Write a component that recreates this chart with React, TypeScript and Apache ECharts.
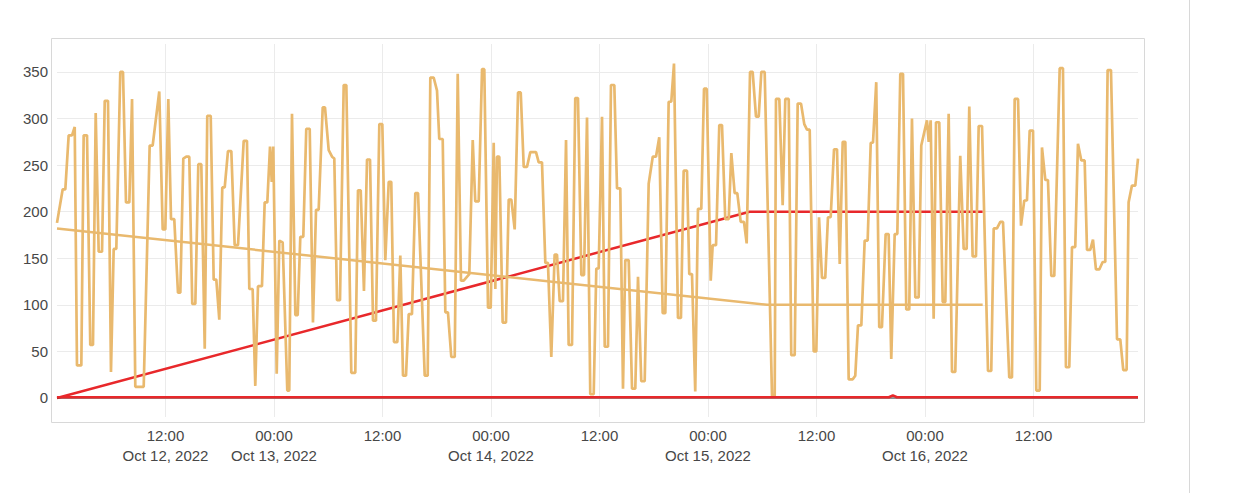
import React, { useEffect, useRef } from "react";
import * as echarts from "echarts";

// Hours since Oct 12, 2022 00:00 for the jagged series
const jagHours = [
  0, 0.63, 0.92, 1.29, 1.66, 1.96, 2.21, 2.69, 2.95, 3.32, 3.68, 3.98, 4.28, 4.61, 4.98, 5.28, 5.64, 5.97, 6.27, 6.56,
  7.0, 7.3, 7.63, 8.0, 8.3, 8.66, 9.59, 10.25, 10.58, 11.31, 11.69, 11.98, 12.31, 12.61, 12.97, 13.38, 13.64, 13.97, 14.3, 14.63,
  14.96, 15.3, 15.63, 15.96, 16.34, 16.62, 17.0, 17.33, 17.62, 17.95, 18.28, 18.55, 18.91, 19.28,
  19.65, 20.02, 20.65, 21.01, 21.27, 21.64, 21.93, 22.23, 22.67, 22.97, 23.26, 23.56, 23.75, 23.92, 24.3, 24.59, 24.96, 25.47, 25.69, 25.99,
  26.36, 26.62, 26.91, 27.24, 27.57, 27.95, 28.31, 28.65, 28.94, 29.39, 29.64, 30.05, 30.42, 30.67, 30.97, 31.3, 31.71, 32.0, 32.55, 32.99,
  33.29, 33.59, 33.95, 34.29, 34.62, 34.95, 35.28, 35.65, 35.98, 36.31, 36.69, 36.97, 37.27, 37.64, 37.97, 38.27, 38.6, 38.9, 39.26, 39.63,
  39.93, 40.67, 41.0, 41.29, 41.66, 42.03, 42.28, 42.66, 42.95, 43.24, 43.61, 43.99, 44.32, 44.68, 44.98, 45.6, 45.98, 46.26, 46.64, 47.01,
  47.26, 47.67, 47.97, 48.3, 48.48, 48.66, 48.92, 49.29, 49.66, 49.96, 50.25, 50.62, 50.99, 51.29, 51.62, 51.98, 52.35, 52.98, 53.28, 53.64,
  54.01, 54.3, 54.67, 55.04, 55.3, 55.6, 55.96, 56.3, 56.59, 56.96, 57.32, 57.62, 57.99, 58.29, 58.62, 58.98, 59.36, 59.65,
  59.91, 60.28, 60.58, 60.94, 61.27, 61.64, 61.94, 62.3, 62.6, 62.85, 63.23, 63.6, 63.96, 64.26, 64.62, 65.0, 65.44, 65.89, 66.25, 66.61,
  66.99, 67.28, 67.65, 67.94, 68.24, 68.68, 69.01, 69.31, 69.68, 69.93, 70.23, 70.59, 70.89, 71.26, 71.56, 71.86, 72.3, 72.52, 72.89, 73.25,
  73.55, 73.91, 74.29, 74.58, 74.95, 75.24, 75.62, 75.98, 76.28, 76.65, 76.94, 77.31, 77.61, 77.9, 78.27, 79.08, 79.38,
  79.52, 79.89, 80.26, 80.55, 80.93, 81.21, 81.59, 81.92, 82.29, 82.65, 82.95, 83.25, 83.69, 83.98, 84.28, 84.61, 84.97, 85.27, 85.57, 85.94,
  86.27, 86.57, 86.9, 87.19, 87.56, 88.01, 88.29, 88.59, 88.96, 89.33, 89.66, 90.0, 90.25, 90.61, 90.94, 91.24, 91.65, 91.98, 92.27, 92.65,
  92.94, 93.27, 93.57, 93.93, 94.26, 94.56, 94.93, 95.3, 95.59, 96.22, 96.41, 96.63, 96.96, 97.22, 97.58, 97.96, 98.25, 98.62, 98.99, 99.35,
  99.9, 100.28, 100.61, 100.9, 101.27, 101.64, 101.94, 102.31, 102.97, 103.33, 103.6, 103.96, 104.33, 104.63, 105.32, 105.62, 105.92, 106.29, 106.62, 106.98,
  107.28, 107.58, 107.95, 108.31, 108.69, 108.94, 109.31, 109.6, 109.97, 110.3, 110.9, 111.26, 111.59, 111.96, 112.26, 112.62, 112.92, 113.29, 113.66, 113.92,
  114.28, 114.58, 114.91, 115.28, 115.65, 115.94, 116.2, 116.57, 117.24, 117.6, 117.93, 118.3, 118.52, 118.89, 119.26, 119.56,
];

const jagValues = [
  188, 224, 224, 282, 282, 291, 35, 35, 282, 282, 57, 57, 306, 157, 157, 319, 319, 28, 160, 160,
  350, 350, 210, 210, 321, 12, 12, 271, 271, 329, 181, 181, 321, 192, 192, 113, 113, 257, 259, 259,
  101, 101, 251, 251, 53, 303, 303, 127, 127, 84, 226, 226, 265, 265,
  164, 164, 276, 276, 117, 117, 13, 120, 120, 210, 210, 270, 232, 270, 26, 169, 167, 8, 8, 305,
  89, 89, 173, 173, 289, 289, 81, 202, 202, 312, 312, 266, 259, 257, 105, 105, 336, 336, 27, 27,
  223, 223, 115, 256, 256, 83, 83, 294, 294, 148, 232, 232, 60, 60, 153, 24, 24, 90, 90, 220,
  220, 24, 24, 344, 344, 330, 278, 278, 92, 92, 44, 44, 348, 126, 126, 133, 277, 211, 211, 353,
  353, 97, 97, 274, 117, 259, 259, 81, 81, 213, 213, 181, 328, 328, 248, 248, 264, 264, 253, 253,
  145, 145, 44, 154, 154, 104, 104, 277, 57, 57, 322, 322, 132, 132, 301, 4, 4, 139,
  139, 302, 55, 55, 336, 336, 225, 225, 10, 148, 148, 10, 10, 130, 18, 18, 230, 259, 259, 280,
  91, 91, 318, 318, 359, 86, 86, 244, 244, 133, 133, 7, 203, 203, 332, 332, 126, 164, 164, 293,
  293, 192, 192, 263, 220, 220, 189, 189, 166, 350, 350, 302, 302, 350, 350, 2.5, 2.5,
  321, 321, 207, 321, 321, 46, 46, 316, 316, 294, 288, 288, 50, 50, 194, 129, 129, 194, 194, 267,
  267, 144, 275, 275, 20, 20, 24, 78, 78, 169, 169, 274, 274, 339, 76, 76, 176, 176, 42, 176,
  176, 348, 348, 95, 95, 300, 108, 108, 271, 298, 275, 298, 85, 296, 296, 103, 103, 305, 28, 28,
  260, 160, 160, 313, 152, 152, 292, 292, 29, 29, 182, 182, 189, 189, 22, 22, 321, 321, 185, 212,
  212, 287, 287, 8, 8, 269, 234, 234, 131, 131, 354, 354, 33, 33, 162, 162, 273, 255, 255, 159,
  159, 170, 138, 138, 146, 146, 352, 352, 63, 63, 30, 30, 210, 228, 228, 257,
];

// Straight orange line (declining then flat)
const trendHours = [0, 78.53, 102.38];
const trendValues = [182, 100, 100];

// Red rising line then flat
const redHours = [0, 76.6, 102.38];
const redValues = [0, 200, 200];

// Near-zero series
const zeroRedHours = [0, 92.0, 92.45, 92.9, 119.56];
const zeroRedValues = [0.8, 0.8, 2.8, 0.8, 0.8];
const zeroDarkHours = [0, 119.56];
const zeroDarkValues = [0, 0];

const xMaxHours = 119.56;
const xTickHours = [12, 24, 36, 48, 60, 72, 84, 96, 108];
const yTicks = [0, 50, 100, 150, 200, 250, 300, 350];
const yMin = -20.4;
const yMax = 380;

const pairs = (h: number[], v: number[]) => h.map((x, i) => [x, v[i]]);

export default function App() {
  const ref = useRef<HTMLDivElement>(null);
  useEffect(() => {
    if (!ref.current) return;
    const chart = echarts.init(ref.current, undefined, { renderer: "svg" });
    const labelFont = {
      color: "#474747",
      fontSize: 15,
      fontFamily: "'Liberation Sans', Arial, sans-serif",
    };
    chart.setOption({
      animation: false,
      backgroundColor: "#ffffff",
      grid: { left: 57, right: 97, top: 44, bottom: 76, containLabel: false },
      xAxis: {
        type: "value",
        min: 0,
        max: xMaxHours,
        axisLine: { show: false },
        axisTick: { show: false, customValues: xTickHours },
        splitLine: { show: true, lineStyle: { color: "#ebebeb", width: 1 } },
        axisLabel: {
          ...labelFont,
          customValues: xTickHours,
          margin: 8,
          lineHeight: 20,
          formatter: (v: number) => {
            const h = Math.round(v);
            const day = 12 + Math.floor(h / 24);
            if (h === 12) return `12:00\nOct ${day}, 2022`;
            if (h % 24 === 12) return "12:00";
            return `00:00\nOct ${day}, 2022`;
          },
        },
      },
      yAxis: {
        type: "value",
        min: yMin,
        max: yMax,
        axisLine: { show: false },
        axisTick: { show: false, customValues: yTicks },
        splitLine: { show: true, lineStyle: { color: "#ebebeb", width: 1 } },
        axisLabel: { ...labelFont, customValues: yTicks, margin: 9 },
      },
      graphic: [
        {
          type: "rect",
          shape: { x: 51.5, y: 38.5, width: 1093, height: 384 },
          style: { fill: "none", stroke: "#d8d8d8", lineWidth: 1 },
          silent: true,
          z: 0,
        },
        {
          type: "line",
          shape: { x1: 1189.5, y1: 0, x2: 1189.5, y2: 493 },
          style: { stroke: "#d8d8d8", lineWidth: 1 },
          silent: true,
        },
      ],
      series: [
        {
          type: "line",
          data: pairs(redHours, redValues),
          showSymbol: false,
          lineStyle: { color: "#e8282b", width: 2.5 },
          itemStyle: { color: "#e8282b" },
          z: 2,
        },
        {
          type: "line",
          data: pairs(trendHours, trendValues),
          showSymbol: false,
          lineStyle: { color: "#e9b96e", width: 2.5 },
          itemStyle: { color: "#e9b96e" },
          z: 3,
        },
        {
          type: "line",
          data: pairs(jagHours, jagValues),
          showSymbol: false,
          lineStyle: { color: "#e9b96e", width: 2.7 },
          itemStyle: { color: "#e9b96e" },
          z: 4,
        },
        {
          type: "line",
          data: pairs(zeroDarkHours, zeroDarkValues),
          showSymbol: false,
          lineStyle: { color: "#2e2e2e", width: 1.2 },
          itemStyle: { color: "#2e2e2e" },
          z: 5,
        },
        {
          type: "line",
          data: pairs(zeroRedHours, zeroRedValues),
          showSymbol: false,
          lineStyle: { color: "#e8282b", width: 2.5 },
          itemStyle: { color: "#e8282b" },
          z: 6,
        },
      ],
    });
    return () => chart.dispose();
  }, []);
  return (
    <div
      ref={ref}
      style={{ position: "fixed", left: 0, top: 0, width: 1235, height: 493 }}
    />
  );
}
